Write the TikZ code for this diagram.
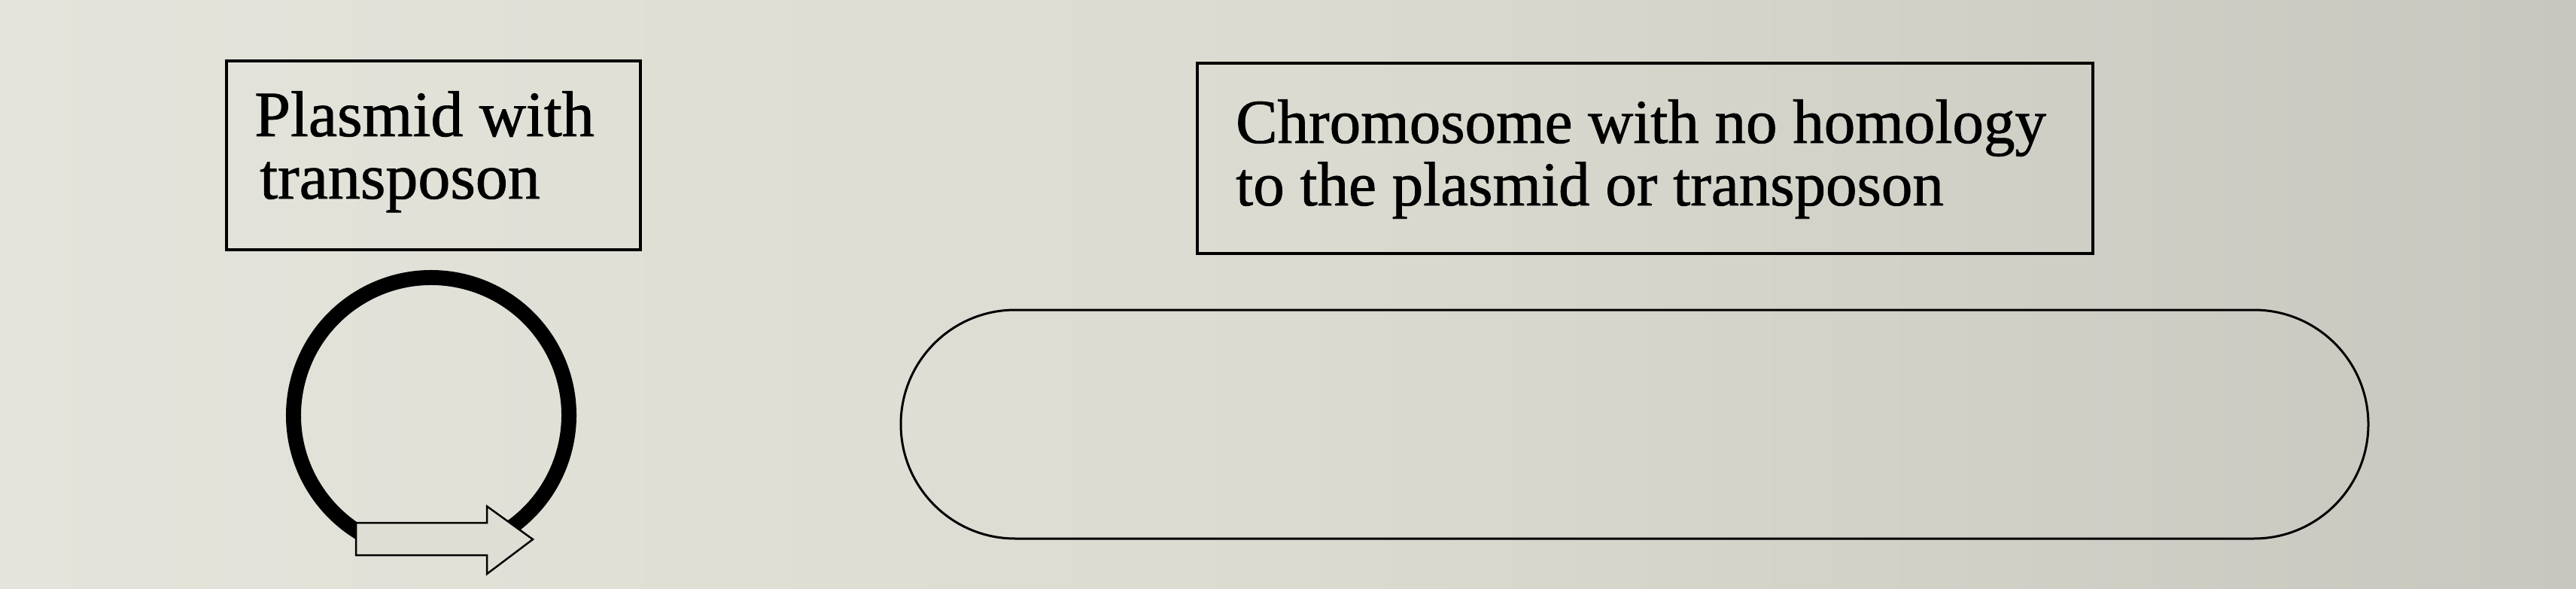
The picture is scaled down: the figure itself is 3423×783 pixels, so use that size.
\documentclass[tikz,border=0pt]{standalone}
\usepackage{fontspec}
\setmainfont{Liberation Serif}
\newfontfamily\labelfont[FakeBold=1]{Liberation Serif}
\definecolor{bgL}{RGB}{228,228,220}
\definecolor{bgM}{RGB}{219,219,209}
\definecolor{bgR}{RGB}{200,199,191}
\definecolor{arrowfill}{RGB}{222,222,213}
\begin{document}
\begin{tikzpicture}[x=1pt,y=-1pt,
  labelbox/.style={draw=black, line width=4, minimum width=#1, anchor=north west, inner sep=0},
  labeltext/.style={anchor=base west, inner sep=0, font=\labelfont\fontsize{86}{83}\selectfont},
  ring/.style={draw=black, line width=20},
  transposon/.style={draw=black, line width=2.5, fill=arrowfill, line join=miter},
  chromosome/.style={draw=black, line width=3, rounded corners=152, minimum width=1950, minimum height=304, inner sep=0}]
  % background
  \shade[left color=bgL, right color=bgR, middle color=bgM] (0,0) rectangle (3423,783);
  \useasboundingbox (0,0) rectangle (3423,783);

  % plasmid label
  \node[labelbox=550, minimum height=251] (pbox) at (299,79) {};
  \node[labeltext] (pt1) at (338,181) {Plasmid with};
  \node[labeltext] (pt2) at (345,264) {transposon};

  % chromosome label
  \node[labelbox=1190, minimum height=253] (cbox) at (1589,82) {};
  \node[labeltext, font=\labelfont\fontsize{83}{83}\selectfont] (ct1) at (1642,190) {Chromosome with no homology};
  \node[labeltext, font=\labelfont\fontsize{83}{83}\selectfont] (ct2) at (1642,273) {to the plasmid or transposon};

  % plasmid ring
  \coordinate (pc) at (573,552);
  \draw[ring] (pc) ++(56:183) arc[start angle=56, end angle=-240, radius=183];

  % transposon arrow
  \draw[transposon] (473,695) -- (647,695) -- (647,673) -- (708,717) -- (647,763) -- (647,738) -- (473,738) -- cycle;

  % chromosome
  \node[chromosome] (chrom) at (2172,564) {};
\end{tikzpicture}
\end{document}
